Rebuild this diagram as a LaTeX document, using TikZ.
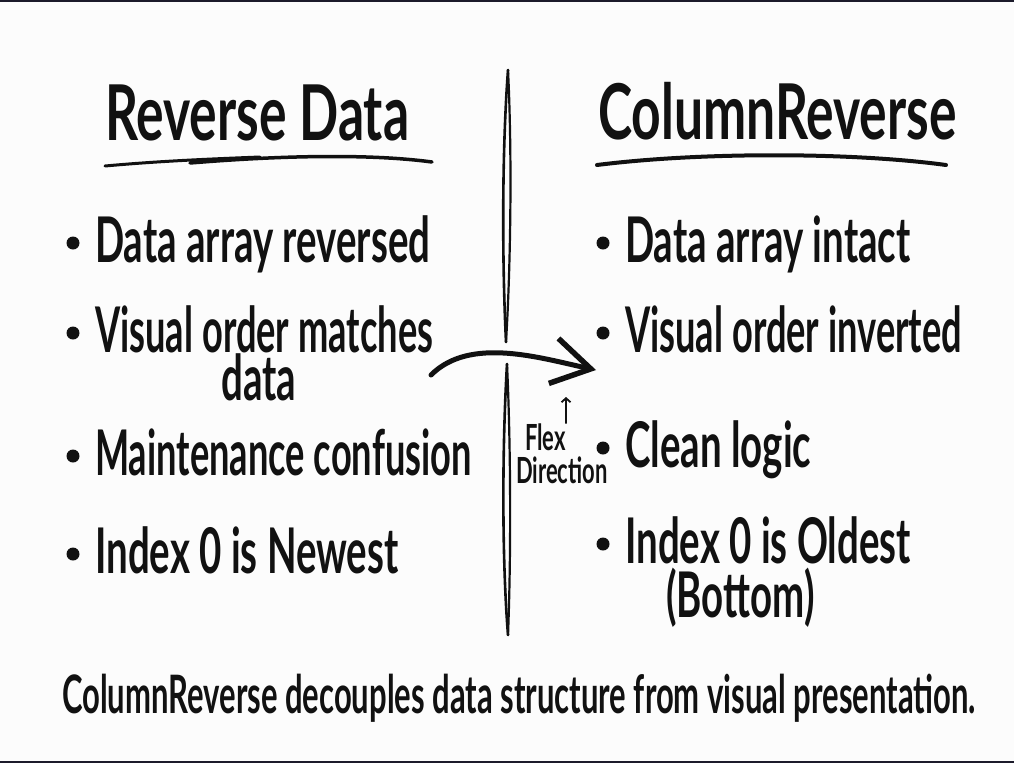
\documentclass[tikz,border=0pt]{standalone}
\usepackage{fontspec}
\usepackage{tikz}
\usetikzlibrary{
  arrows.meta,
  calc,
  positioning,
}
\newfontfamily\handfont[FakeStretch=0.61]{Lato}
\newfontfamily\narrowfont[FakeStretch=0.575]{Lato}
\newfontfamily\headfont[FakeStretch=0.67]{Lato}
\newfontfamily\footfont[FakeStretch=0.585]{Lato}
\definecolor{ink}{HTML}{111111}
\definecolor{paper}{HTML}{FCFCFC}
\definecolor{frame}{HTML}{1C1B2B}

\tikzset{
  headtext/.style={font=\headfont\bfseries\fontsize{77}{80}\selectfont, text=ink, anchor=base west, inner sep=0pt},
  itemtext/.style={font=\handfont\bfseries\fontsize{63}{66}\selectfont, text=ink, anchor=base west, inner sep=0pt},
  longtext/.style={itemtext, font=\narrowfont\bfseries\fontsize{63}{66}\selectfont},
  foottext/.style={font=\footfont\bfseries\fontsize{53}{56}\selectfont, text=ink, anchor=base west, inner sep=0pt},
  flextext/.style={font=\handfont\bfseries\fontsize{36}{38}\selectfont, text=ink, anchor=base west, inner sep=0pt},
  sketchline/.style={draw=ink, line cap=round, line join=round},
  bulletdot/.style={fill=ink},
}

\begin{document}
\begin{tikzpicture}[x=1pt, y=-1pt]

% paper and frame
\fill[paper] (0,0) rectangle (1014,763);
\fill[frame] (0,0) rectangle (1014,2);
\fill[frame] (0,760.5) rectangle (1014,763);
\useasboundingbox (0,0) rectangle (1014,763);

% headings
\node[headtext] (headl) at (105,140) {Reverse Data};
\node[headtext] (headr) at (598,139) {ColumnReverse};

\draw[sketchline, line width=3pt] (105,166) .. controls (160,161) and (210,159) .. (260,157);
\draw[sketchline, line width=3.5pt] (190,163) .. controls (300,154) and (380,155) .. (432,162);
\draw[sketchline, line width=4pt] (597,165) .. controls (700,152) and (850,152) .. (946,165);

% left column
\node[itemtext] (l1) at (95,262) {Data array reversed};
\node[longtext] (l2) at (95,352) {Visual order matches};
\node[itemtext, anchor=base] (l2b) at (259,400) {data};
\node[longtext] (l3) at (95,475) {Maintenance confusion};
\node[itemtext] (l4) at (95,573) {Index 0 is Newest};

% right column
\node[itemtext] (r1) at (625,262) {Data array intact};
\node[longtext] (r2) at (625,352) {Visual order inverted};
\node[itemtext] (r3) at (625,467) {Clean logic};
\node[itemtext] (r4) at (625,563) {Index 0 is Oldest};
\node[itemtext] (r4b) at (666,617) {(Bottom)};

\foreach \n in {l1,l2,l3,l4,r1,r2,r3,r4}
  \fill[bulletdot] ([shift={(-22pt,19pt)}]\n.base west) circle (6.5pt);

% divider
\coordinate (divtop) at (508,70);
\coordinate (divmid) at (506,342);
\coordinate (divlow) at (507,364);
\coordinate (divbot) at (508,635);
\draw[sketchline, line width=2.6pt] (divtop) .. controls (502,150) and (502,260) .. (divmid);
\draw[sketchline, line width=2.2pt] (divtop) .. controls (512,150) and (511,260) .. (divmid);
\draw[sketchline, line width=2.6pt] (divlow) .. controls (502,450) and (502,560) .. (divbot);
\draw[sketchline, line width=2.2pt] (divlow) .. controls (511,450) and (511,560) .. (divbot);

% flex direction arrow
\coordinate (arrstart) at (431,375);
\coordinate (arrend) at (596,370);
\draw[sketchline, line width=5pt, -{Straight Barb[length=38pt, width=46pt, line width=5.5pt]}]
  (arrstart) .. controls (470,336) and (540,358) .. (arrend);

\node[flextext] (flex) at (525,450) {Flex};
\node[flextext] (dir) at (516,483) {Direction};
\coordinate (flexup) at (566,397);
\draw[sketchline, line width=1.8pt, -{Straight Barb[length=4pt, width=9pt]}] (flexup |- flex.north) -- (flexup);

% summary
\node[foottext] (summary) at (62,713) {ColumnReverse decouples data structure from visual presentation.};

\end{tikzpicture}
\end{document}
